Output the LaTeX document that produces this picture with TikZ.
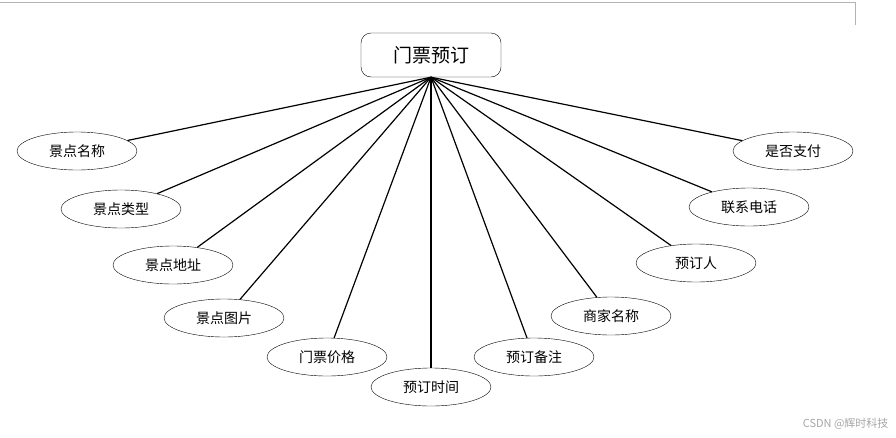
\documentclass[tikz,border=0pt]{standalone}
\usepackage{fontspec}
\setmainfont{Liberation Serif}
\newfontfamily\cjk{Noto Sans CJK SC}
\usetikzlibrary{shapes.geometric}
\begin{document}
\begin{tikzpicture}[x=1pt,y=-1pt,
  attr/.style={draw,ellipse,minimum width=120pt,minimum height=38pt,inner sep=0pt,font=\cjk\fontsize{14}{14}\selectfont},
  link/.style={line width=1.2pt}]
\useasboundingbox (0,0) rectangle (896,437);
\draw[gray!60] (0,2) -- (855,2) -- (855,25);
\node[draw,rounded corners=10pt,minimum width=140pt,minimum height=44pt,font=\cjk\fontsize{19}{19}\selectfont] (root) at (431,55) {门票预订};
\node[attr] (a1) at (77,151) {景点名称};
\node[attr] (a2) at (121,209) {景点类型};
\node[attr] (a3) at (173,265) {景点地址};
\node[attr] (a4) at (224,318) {景点图片};
\node[attr] (a5) at (327,357) {门票价格};
\node[attr] (a6) at (431,387) {预订时间};
\node[attr] (a7) at (534,357) {预订备注};
\node[attr] (a8) at (611,316) {商家名称};
\node[attr] (a9) at (696,263) {预订人};
\node[attr] (a10) at (749,207) {联系电话};
\node[attr] (a11) at (793,151) {是否支付};
\foreach \n in {a1,a2,a3,a4,a5,a6,a7,a8,a9,a10,a11}
  \draw[link] (root.south) -- (\n);
\node[anchor=east,text=gray!70,font=\cjk\fontsize{11}{11}\selectfont] (wm) at (892,424) {CSDN @辉时科技};
\end{tikzpicture}
\end{document}
